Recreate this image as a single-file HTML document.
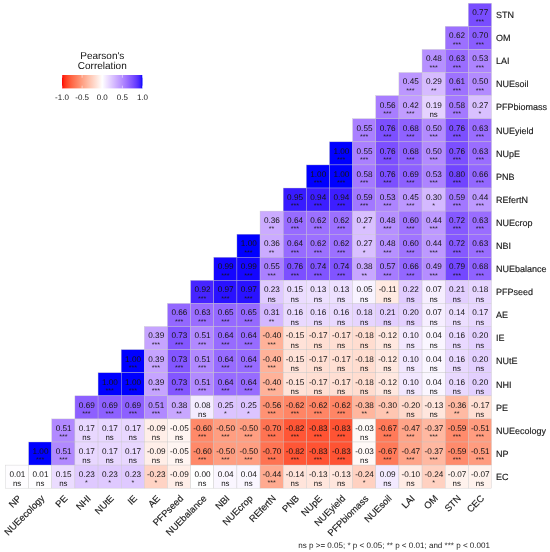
<!DOCTYPE html>
<html lang="en"><head><meta charset="utf-8"><title>Pearson correlation heatmap</title>
<style>
html,body{margin:0;padding:0;background:#fff;}
body{width:550px;height:552px;overflow:hidden;}
svg{display:block;font-family:"Liberation Sans",Arial,sans-serif;text-rendering:geometricPrecision;}
.v{font-size:8.2px;fill:#141414;text-anchor:middle;}
.s{font-size:7.1px;fill:#141414;text-anchor:middle;}
.n{font-size:7.9px;fill:#141414;text-anchor:middle;}
.yl{font-size:9px;fill:#1a1a1a;stroke:#1a1a1a;stroke-width:0.15;}
.xl{font-size:9.4px;fill:#1a1a1a;stroke:#1a1a1a;stroke-width:0.15;text-anchor:end;}
.lt{font-size:10px;fill:#111;text-anchor:middle;}
.ll{font-size:8px;fill:#1a1a1a;text-anchor:middle;}
.cap{font-size:8.06px;fill:#222;text-anchor:end;}
.c{stroke:#C6C6C6;stroke-width:0.4;stroke-opacity:0.85;}
</style></head><body>
<svg width="550" height="552" viewBox="0 0 550 552">
<rect x="0" y="0" width="550" height="552" fill="#FFFFFF"/>
<g><rect class="c" x="468.36" y="3.30" width="23.14" height="23.09" fill="#794DFF"/><rect class="c" x="445.22" y="26.39" width="23.14" height="23.09" fill="#9C70FF"/><rect class="c" x="468.36" y="26.39" width="23.14" height="23.09" fill="#8A5DFF"/><rect class="c" x="422.07" y="49.48" width="23.14" height="23.09" fill="#B690FF"/><rect class="c" x="445.22" y="49.48" width="23.14" height="23.09" fill="#9A6DFF"/><rect class="c" x="468.36" y="49.48" width="23.14" height="23.09" fill="#AD84FF"/><rect class="c" x="398.93" y="72.57" width="23.14" height="23.09" fill="#BC97FF"/><rect class="c" x="422.07" y="72.57" width="23.14" height="23.09" fill="#D6BBFF"/><rect class="c" x="445.22" y="72.57" width="23.14" height="23.09" fill="#9E72FF"/><rect class="c" x="468.36" y="72.57" width="23.14" height="23.09" fill="#B38BFF"/><rect class="c" x="375.79" y="95.66" width="23.14" height="23.09" fill="#A87DFF"/><rect class="c" x="398.93" y="95.66" width="23.14" height="23.09" fill="#C19DFF"/><rect class="c" x="422.07" y="95.66" width="23.14" height="23.09" fill="#E5D2FF"/><rect class="c" x="445.22" y="95.66" width="23.14" height="23.09" fill="#A479FF"/><rect class="c" x="468.36" y="95.66" width="23.14" height="23.09" fill="#D9C0FF"/><rect class="c" x="352.64" y="118.75" width="23.14" height="23.09" fill="#AA80FF"/><rect class="c" x="375.79" y="118.75" width="23.14" height="23.09" fill="#7C4FFF"/><rect class="c" x="398.93" y="118.75" width="23.14" height="23.09" fill="#8F62FF"/><rect class="c" x="422.07" y="118.75" width="23.14" height="23.09" fill="#B38BFF"/><rect class="c" x="445.22" y="118.75" width="23.14" height="23.09" fill="#7C4FFF"/><rect class="c" x="468.36" y="118.75" width="23.14" height="23.09" fill="#9A6DFF"/><rect class="c" x="329.50" y="141.84" width="23.14" height="23.09" fill="#0000FF"/><rect class="c" x="352.64" y="141.84" width="23.14" height="23.09" fill="#AA80FF"/><rect class="c" x="375.79" y="141.84" width="23.14" height="23.09" fill="#7C4FFF"/><rect class="c" x="398.93" y="141.84" width="23.14" height="23.09" fill="#8F62FF"/><rect class="c" x="422.07" y="141.84" width="23.14" height="23.09" fill="#B38BFF"/><rect class="c" x="445.22" y="141.84" width="23.14" height="23.09" fill="#7C4FFF"/><rect class="c" x="468.36" y="141.84" width="23.14" height="23.09" fill="#9A6DFF"/><rect class="c" x="306.36" y="164.93" width="23.14" height="23.09" fill="#0000FF"/><rect class="c" x="329.50" y="164.93" width="23.14" height="23.09" fill="#0000FF"/><rect class="c" x="352.64" y="164.93" width="23.14" height="23.09" fill="#A479FF"/><rect class="c" x="375.79" y="164.93" width="23.14" height="23.09" fill="#7C4FFF"/><rect class="c" x="398.93" y="164.93" width="23.14" height="23.09" fill="#8D60FF"/><rect class="c" x="422.07" y="164.93" width="23.14" height="23.09" fill="#AD84FF"/><rect class="c" x="445.22" y="164.93" width="23.14" height="23.09" fill="#7145FF"/><rect class="c" x="468.36" y="164.93" width="23.14" height="23.09" fill="#9367FF"/><rect class="c" x="283.22" y="188.02" width="23.14" height="23.09" fill="#381BFF"/><rect class="c" x="306.36" y="188.02" width="23.14" height="23.09" fill="#3D1EFF"/><rect class="c" x="329.50" y="188.02" width="23.14" height="23.09" fill="#3D1EFF"/><rect class="c" x="352.64" y="188.02" width="23.14" height="23.09" fill="#A277FF"/><rect class="c" x="375.79" y="188.02" width="23.14" height="23.09" fill="#AD84FF"/><rect class="c" x="398.93" y="188.02" width="23.14" height="23.09" fill="#BC97FF"/><rect class="c" x="422.07" y="188.02" width="23.14" height="23.09" fill="#D4B9FF"/><rect class="c" x="445.22" y="188.02" width="23.14" height="23.09" fill="#A277FF"/><rect class="c" x="468.36" y="188.02" width="23.14" height="23.09" fill="#BD99FF"/><rect class="c" x="260.07" y="211.11" width="23.14" height="23.09" fill="#CBABFF"/><rect class="c" x="283.22" y="211.11" width="23.14" height="23.09" fill="#976BFF"/><rect class="c" x="306.36" y="211.11" width="23.14" height="23.09" fill="#9C70FF"/><rect class="c" x="329.50" y="211.11" width="23.14" height="23.09" fill="#9C70FF"/><rect class="c" x="352.64" y="211.11" width="23.14" height="23.09" fill="#D9C0FF"/><rect class="c" x="375.79" y="211.11" width="23.14" height="23.09" fill="#B690FF"/><rect class="c" x="398.93" y="211.11" width="23.14" height="23.09" fill="#A074FF"/><rect class="c" x="422.07" y="211.11" width="23.14" height="23.09" fill="#BD99FF"/><rect class="c" x="445.22" y="211.11" width="23.14" height="23.09" fill="#8659FF"/><rect class="c" x="468.36" y="211.11" width="23.14" height="23.09" fill="#9A6DFF"/><rect class="c" x="236.93" y="234.20" width="23.14" height="23.09" fill="#0000FF"/><rect class="c" x="260.07" y="234.20" width="23.14" height="23.09" fill="#CBABFF"/><rect class="c" x="283.22" y="234.20" width="23.14" height="23.09" fill="#976BFF"/><rect class="c" x="306.36" y="234.20" width="23.14" height="23.09" fill="#9C70FF"/><rect class="c" x="329.50" y="234.20" width="23.14" height="23.09" fill="#9C70FF"/><rect class="c" x="352.64" y="234.20" width="23.14" height="23.09" fill="#D9C0FF"/><rect class="c" x="375.79" y="234.20" width="23.14" height="23.09" fill="#B690FF"/><rect class="c" x="398.93" y="234.20" width="23.14" height="23.09" fill="#A074FF"/><rect class="c" x="422.07" y="234.20" width="23.14" height="23.09" fill="#BD99FF"/><rect class="c" x="445.22" y="234.20" width="23.14" height="23.09" fill="#8659FF"/><rect class="c" x="468.36" y="234.20" width="23.14" height="23.09" fill="#9A6DFF"/><rect class="c" x="213.79" y="257.29" width="23.14" height="23.09" fill="#1506FF"/><rect class="c" x="236.93" y="257.29" width="23.14" height="23.09" fill="#1506FF"/><rect class="c" x="260.07" y="257.29" width="23.14" height="23.09" fill="#AA80FF"/><rect class="c" x="283.22" y="257.29" width="23.14" height="23.09" fill="#7C4FFF"/><rect class="c" x="306.36" y="257.29" width="23.14" height="23.09" fill="#8154FF"/><rect class="c" x="329.50" y="257.29" width="23.14" height="23.09" fill="#8154FF"/><rect class="c" x="352.64" y="257.29" width="23.14" height="23.09" fill="#C8A7FF"/><rect class="c" x="375.79" y="257.29" width="23.14" height="23.09" fill="#A67BFF"/><rect class="c" x="398.93" y="257.29" width="23.14" height="23.09" fill="#9367FF"/><rect class="c" x="422.07" y="257.29" width="23.14" height="23.09" fill="#B58DFF"/><rect class="c" x="445.22" y="257.29" width="23.14" height="23.09" fill="#7448FF"/><rect class="c" x="468.36" y="257.29" width="23.14" height="23.09" fill="#8F62FF"/><rect class="c" x="190.64" y="280.38" width="23.14" height="23.09" fill="#4725FF"/><rect class="c" x="213.79" y="280.38" width="23.14" height="23.09" fill="#2A12FF"/><rect class="c" x="236.93" y="280.38" width="23.14" height="23.09" fill="#2A12FF"/><rect class="c" x="260.07" y="280.38" width="23.14" height="23.09" fill="#DFC9FF"/><rect class="c" x="283.22" y="280.38" width="23.14" height="23.09" fill="#EBDCFF"/><rect class="c" x="306.36" y="280.38" width="23.14" height="23.09" fill="#EDE0FF"/><rect class="c" x="329.50" y="280.38" width="23.14" height="23.09" fill="#EDE0FF"/><rect class="c" x="352.64" y="280.38" width="23.14" height="23.09" fill="#F8F3FF"/><rect class="c" x="375.79" y="280.38" width="23.14" height="23.09" fill="#FFEAE2"/><rect class="c" x="398.93" y="280.38" width="23.14" height="23.09" fill="#E0CBFF"/><rect class="c" x="422.07" y="280.38" width="23.14" height="23.09" fill="#F6EEFF"/><rect class="c" x="445.22" y="280.38" width="23.14" height="23.09" fill="#E2CEFF"/><rect class="c" x="468.36" y="280.38" width="23.14" height="23.09" fill="#E6D5FF"/><rect class="c" x="167.50" y="303.47" width="23.14" height="23.09" fill="#9367FF"/><rect class="c" x="190.64" y="303.47" width="23.14" height="23.09" fill="#9A6DFF"/><rect class="c" x="213.79" y="303.47" width="23.14" height="23.09" fill="#9569FF"/><rect class="c" x="236.93" y="303.47" width="23.14" height="23.09" fill="#9569FF"/><rect class="c" x="260.07" y="303.47" width="23.14" height="23.09" fill="#D3B7FF"/><rect class="c" x="283.22" y="303.47" width="23.14" height="23.09" fill="#E9D9FF"/><rect class="c" x="306.36" y="303.47" width="23.14" height="23.09" fill="#E9D9FF"/><rect class="c" x="329.50" y="303.47" width="23.14" height="23.09" fill="#E9D9FF"/><rect class="c" x="352.64" y="303.47" width="23.14" height="23.09" fill="#E6D5FF"/><rect class="c" x="375.79" y="303.47" width="23.14" height="23.09" fill="#E2CEFF"/><rect class="c" x="398.93" y="303.47" width="23.14" height="23.09" fill="#E3D0FF"/><rect class="c" x="422.07" y="303.47" width="23.14" height="23.09" fill="#F6EEFF"/><rect class="c" x="445.22" y="303.47" width="23.14" height="23.09" fill="#ECDEFF"/><rect class="c" x="468.36" y="303.47" width="23.14" height="23.09" fill="#E8D7FF"/><rect class="c" x="144.36" y="326.56" width="23.14" height="23.09" fill="#C6A4FF"/><rect class="c" x="167.50" y="326.56" width="23.14" height="23.09" fill="#8356FF"/><rect class="c" x="190.64" y="326.56" width="23.14" height="23.09" fill="#B189FF"/><rect class="c" x="213.79" y="326.56" width="23.14" height="23.09" fill="#976BFF"/><rect class="c" x="236.93" y="326.56" width="23.14" height="23.09" fill="#976BFF"/><rect class="c" x="260.07" y="326.56" width="23.14" height="23.09" fill="#FFB299"/><rect class="c" x="283.22" y="326.56" width="23.14" height="23.09" fill="#FFE2D8"/><rect class="c" x="306.36" y="326.56" width="23.14" height="23.09" fill="#FFDFD3"/><rect class="c" x="329.50" y="326.56" width="23.14" height="23.09" fill="#FFDFD3"/><rect class="c" x="352.64" y="326.56" width="23.14" height="23.09" fill="#FFDDD0"/><rect class="c" x="375.79" y="326.56" width="23.14" height="23.09" fill="#FFE8E0"/><rect class="c" x="398.93" y="326.56" width="23.14" height="23.09" fill="#F2E7FF"/><rect class="c" x="422.07" y="326.56" width="23.14" height="23.09" fill="#FAF6FF"/><rect class="c" x="445.22" y="326.56" width="23.14" height="23.09" fill="#E9D9FF"/><rect class="c" x="468.36" y="326.56" width="23.14" height="23.09" fill="#E3D0FF"/><rect class="c" x="121.22" y="349.65" width="23.14" height="23.09" fill="#0000FF"/><rect class="c" x="144.36" y="349.65" width="23.14" height="23.09" fill="#C6A4FF"/><rect class="c" x="167.50" y="349.65" width="23.14" height="23.09" fill="#8356FF"/><rect class="c" x="190.64" y="349.65" width="23.14" height="23.09" fill="#B189FF"/><rect class="c" x="213.79" y="349.65" width="23.14" height="23.09" fill="#976BFF"/><rect class="c" x="236.93" y="349.65" width="23.14" height="23.09" fill="#976BFF"/><rect class="c" x="260.07" y="349.65" width="23.14" height="23.09" fill="#FFB299"/><rect class="c" x="283.22" y="349.65" width="23.14" height="23.09" fill="#FFE2D8"/><rect class="c" x="306.36" y="349.65" width="23.14" height="23.09" fill="#FFDFD3"/><rect class="c" x="329.50" y="349.65" width="23.14" height="23.09" fill="#FFDFD3"/><rect class="c" x="352.64" y="349.65" width="23.14" height="23.09" fill="#FFDDD0"/><rect class="c" x="375.79" y="349.65" width="23.14" height="23.09" fill="#FFE8E0"/><rect class="c" x="398.93" y="349.65" width="23.14" height="23.09" fill="#F2E7FF"/><rect class="c" x="422.07" y="349.65" width="23.14" height="23.09" fill="#FAF6FF"/><rect class="c" x="445.22" y="349.65" width="23.14" height="23.09" fill="#E9D9FF"/><rect class="c" x="468.36" y="349.65" width="23.14" height="23.09" fill="#E3D0FF"/><rect class="c" x="98.07" y="372.74" width="23.14" height="23.09" fill="#0000FF"/><rect class="c" x="121.22" y="372.74" width="23.14" height="23.09" fill="#0000FF"/><rect class="c" x="144.36" y="372.74" width="23.14" height="23.09" fill="#C6A4FF"/><rect class="c" x="167.50" y="372.74" width="23.14" height="23.09" fill="#8356FF"/><rect class="c" x="190.64" y="372.74" width="23.14" height="23.09" fill="#B189FF"/><rect class="c" x="213.79" y="372.74" width="23.14" height="23.09" fill="#976BFF"/><rect class="c" x="236.93" y="372.74" width="23.14" height="23.09" fill="#976BFF"/><rect class="c" x="260.07" y="372.74" width="23.14" height="23.09" fill="#FFB299"/><rect class="c" x="283.22" y="372.74" width="23.14" height="23.09" fill="#FFE2D8"/><rect class="c" x="306.36" y="372.74" width="23.14" height="23.09" fill="#FFDFD3"/><rect class="c" x="329.50" y="372.74" width="23.14" height="23.09" fill="#FFDFD3"/><rect class="c" x="352.64" y="372.74" width="23.14" height="23.09" fill="#FFDDD0"/><rect class="c" x="375.79" y="372.74" width="23.14" height="23.09" fill="#FFE8E0"/><rect class="c" x="398.93" y="372.74" width="23.14" height="23.09" fill="#F2E7FF"/><rect class="c" x="422.07" y="372.74" width="23.14" height="23.09" fill="#FAF6FF"/><rect class="c" x="445.22" y="372.74" width="23.14" height="23.09" fill="#E9D9FF"/><rect class="c" x="468.36" y="372.74" width="23.14" height="23.09" fill="#E3D0FF"/><rect class="c" x="74.93" y="395.83" width="23.14" height="23.09" fill="#8D60FF"/><rect class="c" x="98.07" y="395.83" width="23.14" height="23.09" fill="#8D60FF"/><rect class="c" x="121.22" y="395.83" width="23.14" height="23.09" fill="#8D60FF"/><rect class="c" x="144.36" y="395.83" width="23.14" height="23.09" fill="#B189FF"/><rect class="c" x="167.50" y="395.83" width="23.14" height="23.09" fill="#C8A7FF"/><rect class="c" x="190.64" y="395.83" width="23.14" height="23.09" fill="#F4ECFF"/><rect class="c" x="213.79" y="395.83" width="23.14" height="23.09" fill="#DCC4FF"/><rect class="c" x="236.93" y="395.83" width="23.14" height="23.09" fill="#DCC4FF"/><rect class="c" x="260.07" y="395.83" width="23.14" height="23.09" fill="#FF9273"/><rect class="c" x="283.22" y="395.83" width="23.14" height="23.09" fill="#FF8565"/><rect class="c" x="306.36" y="395.83" width="23.14" height="23.09" fill="#FF8565"/><rect class="c" x="329.50" y="395.83" width="23.14" height="23.09" fill="#FF8565"/><rect class="c" x="352.64" y="395.83" width="23.14" height="23.09" fill="#FFB69E"/><rect class="c" x="375.79" y="395.83" width="23.14" height="23.09" fill="#FFC6B2"/><rect class="c" x="398.93" y="395.83" width="23.14" height="23.09" fill="#FFD9CB"/><rect class="c" x="422.07" y="395.83" width="23.14" height="23.09" fill="#FFE6DD"/><rect class="c" x="445.22" y="395.83" width="23.14" height="23.09" fill="#FFBAA3"/><rect class="c" x="468.36" y="395.83" width="23.14" height="23.09" fill="#FFDFD3"/><rect class="c" x="51.79" y="418.92" width="23.14" height="23.09" fill="#B189FF"/><rect class="c" x="74.93" y="418.92" width="23.14" height="23.09" fill="#E8D7FF"/><rect class="c" x="98.07" y="418.92" width="23.14" height="23.09" fill="#E8D7FF"/><rect class="c" x="121.22" y="418.92" width="23.14" height="23.09" fill="#E8D7FF"/><rect class="c" x="144.36" y="418.92" width="23.14" height="23.09" fill="#FFEEE8"/><rect class="c" x="167.50" y="418.92" width="23.14" height="23.09" fill="#FFF5F2"/><rect class="c" x="190.64" y="418.92" width="23.14" height="23.09" fill="#FF8969"/><rect class="c" x="213.79" y="418.92" width="23.14" height="23.09" fill="#FF9E81"/><rect class="c" x="236.93" y="418.92" width="23.14" height="23.09" fill="#FF9E81"/><rect class="c" x="260.07" y="418.92" width="23.14" height="23.09" fill="#FF7352"/><rect class="c" x="283.22" y="418.92" width="23.14" height="23.09" fill="#FF5636"/><rect class="c" x="306.36" y="418.92" width="23.14" height="23.09" fill="#FF5333"/><rect class="c" x="329.50" y="418.92" width="23.14" height="23.09" fill="#FF5333"/><rect class="c" x="352.64" y="418.92" width="23.14" height="23.09" fill="#FFF9F7"/><rect class="c" x="375.79" y="418.92" width="23.14" height="23.09" fill="#FF7A59"/><rect class="c" x="398.93" y="418.92" width="23.14" height="23.09" fill="#FFA488"/><rect class="c" x="422.07" y="418.92" width="23.14" height="23.09" fill="#FFB8A1"/><rect class="c" x="445.22" y="418.92" width="23.14" height="23.09" fill="#FF8B6C"/><rect class="c" x="468.36" y="418.92" width="23.14" height="23.09" fill="#FF9C7F"/><rect class="c" x="28.64" y="442.01" width="23.14" height="23.09" fill="#0000FF"/><rect class="c" x="51.79" y="442.01" width="23.14" height="23.09" fill="#B189FF"/><rect class="c" x="74.93" y="442.01" width="23.14" height="23.09" fill="#E8D7FF"/><rect class="c" x="98.07" y="442.01" width="23.14" height="23.09" fill="#E8D7FF"/><rect class="c" x="121.22" y="442.01" width="23.14" height="23.09" fill="#E8D7FF"/><rect class="c" x="144.36" y="442.01" width="23.14" height="23.09" fill="#FFEEE8"/><rect class="c" x="167.50" y="442.01" width="23.14" height="23.09" fill="#FFF5F2"/><rect class="c" x="190.64" y="442.01" width="23.14" height="23.09" fill="#FF8969"/><rect class="c" x="213.79" y="442.01" width="23.14" height="23.09" fill="#FF9E81"/><rect class="c" x="236.93" y="442.01" width="23.14" height="23.09" fill="#FF9E81"/><rect class="c" x="260.07" y="442.01" width="23.14" height="23.09" fill="#FF7352"/><rect class="c" x="283.22" y="442.01" width="23.14" height="23.09" fill="#FF5636"/><rect class="c" x="306.36" y="442.01" width="23.14" height="23.09" fill="#FF5333"/><rect class="c" x="329.50" y="442.01" width="23.14" height="23.09" fill="#FF5333"/><rect class="c" x="352.64" y="442.01" width="23.14" height="23.09" fill="#FFF9F7"/><rect class="c" x="375.79" y="442.01" width="23.14" height="23.09" fill="#FF7A59"/><rect class="c" x="398.93" y="442.01" width="23.14" height="23.09" fill="#FFA488"/><rect class="c" x="422.07" y="442.01" width="23.14" height="23.09" fill="#FFB8A1"/><rect class="c" x="445.22" y="442.01" width="23.14" height="23.09" fill="#FF8B6C"/><rect class="c" x="468.36" y="442.01" width="23.14" height="23.09" fill="#FF9C7F"/><rect class="c" x="5.50" y="465.10" width="23.14" height="23.09" fill="#FEFDFF"/><rect class="c" x="28.64" y="465.10" width="23.14" height="23.09" fill="#FEFDFF"/><rect class="c" x="51.79" y="465.10" width="23.14" height="23.09" fill="#EBDCFF"/><rect class="c" x="74.93" y="465.10" width="23.14" height="23.09" fill="#DFC9FF"/><rect class="c" x="98.07" y="465.10" width="23.14" height="23.09" fill="#DFC9FF"/><rect class="c" x="121.22" y="465.10" width="23.14" height="23.09" fill="#DFC9FF"/><rect class="c" x="144.36" y="465.10" width="23.14" height="23.09" fill="#FFD3C4"/><rect class="c" x="167.50" y="465.10" width="23.14" height="23.09" fill="#FFEEE8"/><rect class="c" x="190.64" y="465.10" width="23.14" height="23.09" fill="#FFFFFF"/><rect class="c" x="213.79" y="465.10" width="23.14" height="23.09" fill="#FAF6FF"/><rect class="c" x="236.93" y="465.10" width="23.14" height="23.09" fill="#FAF6FF"/><rect class="c" x="260.07" y="465.10" width="23.14" height="23.09" fill="#FFAA90"/><rect class="c" x="283.22" y="465.10" width="23.14" height="23.09" fill="#FFE4DB"/><rect class="c" x="306.36" y="465.10" width="23.14" height="23.09" fill="#FFE6DD"/><rect class="c" x="329.50" y="465.10" width="23.14" height="23.09" fill="#FFE6DD"/><rect class="c" x="352.64" y="465.10" width="23.14" height="23.09" fill="#FFD1C1"/><rect class="c" x="375.79" y="465.10" width="23.14" height="23.09" fill="#F3EAFF"/><rect class="c" x="398.93" y="465.10" width="23.14" height="23.09" fill="#FFECE5"/><rect class="c" x="422.07" y="465.10" width="23.14" height="23.09" fill="#FFD1C1"/><rect class="c" x="445.22" y="465.10" width="23.14" height="23.09" fill="#FFF2ED"/><rect class="c" x="468.36" y="465.10" width="23.14" height="23.09" fill="#FFF2ED"/></g>
<g><text class="v" x="480.23" y="15.14">0.77</text><text class="s" x="479.93" y="23.64">***</text><text class="v" x="457.09" y="38.23">0.62</text><text class="s" x="456.79" y="46.73">***</text><text class="v" x="480.23" y="38.23">0.70</text><text class="s" x="479.93" y="46.73">***</text><text class="v" x="433.95" y="61.32">0.48</text><text class="s" x="433.65" y="69.83">***</text><text class="v" x="457.09" y="61.32">0.63</text><text class="s" x="456.79" y="69.83">***</text><text class="v" x="480.23" y="61.32">0.53</text><text class="s" x="479.93" y="69.83">***</text><text class="v" x="410.80" y="84.41">0.45</text><text class="s" x="410.50" y="92.91">***</text><text class="v" x="433.95" y="84.41">0.29</text><text class="s" x="433.65" y="92.91">**</text><text class="v" x="457.09" y="84.41">0.61</text><text class="s" x="456.79" y="92.91">***</text><text class="v" x="480.23" y="84.41">0.50</text><text class="s" x="479.93" y="92.91">***</text><text class="v" x="387.66" y="107.50">0.56</text><text class="s" x="387.36" y="116.00">***</text><text class="v" x="410.80" y="107.50">0.42</text><text class="s" x="410.50" y="116.00">***</text><text class="v" x="433.95" y="107.50">0.19</text><text class="n" x="433.65" y="117.00">ns</text><text class="v" x="457.09" y="107.50">0.58</text><text class="s" x="456.79" y="116.00">***</text><text class="v" x="480.23" y="107.50">0.27</text><text class="s" x="479.93" y="116.00">*</text><text class="v" x="364.52" y="130.59">0.55</text><text class="s" x="364.22" y="139.09">***</text><text class="v" x="387.66" y="130.59">0.76</text><text class="s" x="387.36" y="139.09">***</text><text class="v" x="410.80" y="130.59">0.68</text><text class="s" x="410.50" y="139.09">***</text><text class="v" x="433.95" y="130.59">0.50</text><text class="s" x="433.65" y="139.09">***</text><text class="v" x="457.09" y="130.59">0.76</text><text class="s" x="456.79" y="139.09">***</text><text class="v" x="480.23" y="130.59">0.63</text><text class="s" x="479.93" y="139.09">***</text><text class="v" x="341.37" y="153.69">1.00</text><text class="s" x="341.07" y="162.19">***</text><text class="v" x="364.52" y="153.69">0.55</text><text class="s" x="364.22" y="162.19">***</text><text class="v" x="387.66" y="153.69">0.76</text><text class="s" x="387.36" y="162.19">***</text><text class="v" x="410.80" y="153.69">0.68</text><text class="s" x="410.50" y="162.19">***</text><text class="v" x="433.95" y="153.69">0.50</text><text class="s" x="433.65" y="162.19">***</text><text class="v" x="457.09" y="153.69">0.76</text><text class="s" x="456.79" y="162.19">***</text><text class="v" x="480.23" y="153.69">0.63</text><text class="s" x="479.93" y="162.19">***</text><text class="v" x="318.23" y="176.78">1.00</text><text class="s" x="317.93" y="185.28">***</text><text class="v" x="341.37" y="176.78">1.00</text><text class="s" x="341.07" y="185.28">***</text><text class="v" x="364.52" y="176.78">0.58</text><text class="s" x="364.22" y="185.28">***</text><text class="v" x="387.66" y="176.78">0.76</text><text class="s" x="387.36" y="185.28">***</text><text class="v" x="410.80" y="176.78">0.69</text><text class="s" x="410.50" y="185.28">***</text><text class="v" x="433.95" y="176.78">0.53</text><text class="s" x="433.65" y="185.28">***</text><text class="v" x="457.09" y="176.78">0.80</text><text class="s" x="456.79" y="185.28">***</text><text class="v" x="480.23" y="176.78">0.66</text><text class="s" x="479.93" y="185.28">***</text><text class="v" x="295.09" y="199.87">0.95</text><text class="s" x="294.79" y="208.37">***</text><text class="v" x="318.23" y="199.87">0.94</text><text class="s" x="317.93" y="208.37">***</text><text class="v" x="341.37" y="199.87">0.94</text><text class="s" x="341.07" y="208.37">***</text><text class="v" x="364.52" y="199.87">0.59</text><text class="s" x="364.22" y="208.37">***</text><text class="v" x="387.66" y="199.87">0.53</text><text class="s" x="387.36" y="208.37">***</text><text class="v" x="410.80" y="199.87">0.45</text><text class="s" x="410.50" y="208.37">***</text><text class="v" x="433.95" y="199.87">0.30</text><text class="s" x="433.65" y="208.37">*</text><text class="v" x="457.09" y="199.87">0.59</text><text class="s" x="456.79" y="208.37">***</text><text class="v" x="480.23" y="199.87">0.44</text><text class="s" x="479.93" y="208.37">***</text><text class="v" x="271.94" y="222.96">0.36</text><text class="s" x="271.64" y="231.46">**</text><text class="v" x="295.09" y="222.96">0.64</text><text class="s" x="294.79" y="231.46">***</text><text class="v" x="318.23" y="222.96">0.62</text><text class="s" x="317.93" y="231.46">***</text><text class="v" x="341.37" y="222.96">0.62</text><text class="s" x="341.07" y="231.46">***</text><text class="v" x="364.52" y="222.96">0.27</text><text class="s" x="364.22" y="231.46">*</text><text class="v" x="387.66" y="222.96">0.48</text><text class="s" x="387.36" y="231.46">***</text><text class="v" x="410.80" y="222.96">0.60</text><text class="s" x="410.50" y="231.46">***</text><text class="v" x="433.95" y="222.96">0.44</text><text class="s" x="433.65" y="231.46">***</text><text class="v" x="457.09" y="222.96">0.72</text><text class="s" x="456.79" y="231.46">***</text><text class="v" x="480.23" y="222.96">0.63</text><text class="s" x="479.93" y="231.46">***</text><text class="v" x="248.80" y="246.05">1.00</text><text class="s" x="248.50" y="254.55">***</text><text class="v" x="271.94" y="246.05">0.36</text><text class="s" x="271.64" y="254.55">**</text><text class="v" x="295.09" y="246.05">0.64</text><text class="s" x="294.79" y="254.55">***</text><text class="v" x="318.23" y="246.05">0.62</text><text class="s" x="317.93" y="254.55">***</text><text class="v" x="341.37" y="246.05">0.62</text><text class="s" x="341.07" y="254.55">***</text><text class="v" x="364.52" y="246.05">0.27</text><text class="s" x="364.22" y="254.55">*</text><text class="v" x="387.66" y="246.05">0.48</text><text class="s" x="387.36" y="254.55">***</text><text class="v" x="410.80" y="246.05">0.60</text><text class="s" x="410.50" y="254.55">***</text><text class="v" x="433.95" y="246.05">0.44</text><text class="s" x="433.65" y="254.55">***</text><text class="v" x="457.09" y="246.05">0.72</text><text class="s" x="456.79" y="254.55">***</text><text class="v" x="480.23" y="246.05">0.63</text><text class="s" x="479.93" y="254.55">***</text><text class="v" x="225.66" y="269.14">0.99</text><text class="s" x="225.36" y="277.64">***</text><text class="v" x="248.80" y="269.14">0.99</text><text class="s" x="248.50" y="277.64">***</text><text class="v" x="271.94" y="269.14">0.55</text><text class="s" x="271.64" y="277.64">***</text><text class="v" x="295.09" y="269.14">0.76</text><text class="s" x="294.79" y="277.64">***</text><text class="v" x="318.23" y="269.14">0.74</text><text class="s" x="317.93" y="277.64">***</text><text class="v" x="341.37" y="269.14">0.74</text><text class="s" x="341.07" y="277.64">***</text><text class="v" x="364.52" y="269.14">0.38</text><text class="s" x="364.22" y="277.64">**</text><text class="v" x="387.66" y="269.14">0.57</text><text class="s" x="387.36" y="277.64">***</text><text class="v" x="410.80" y="269.14">0.66</text><text class="s" x="410.50" y="277.64">***</text><text class="v" x="433.95" y="269.14">0.49</text><text class="s" x="433.65" y="277.64">***</text><text class="v" x="457.09" y="269.14">0.79</text><text class="s" x="456.79" y="277.64">***</text><text class="v" x="480.23" y="269.14">0.68</text><text class="s" x="479.93" y="277.64">***</text><text class="v" x="202.52" y="292.23">0.92</text><text class="s" x="202.22" y="300.73">***</text><text class="v" x="225.66" y="292.23">0.97</text><text class="s" x="225.36" y="300.73">***</text><text class="v" x="248.80" y="292.23">0.97</text><text class="s" x="248.50" y="300.73">***</text><text class="v" x="271.94" y="292.23">0.23</text><text class="n" x="271.64" y="301.73">ns</text><text class="v" x="295.09" y="292.23">0.15</text><text class="n" x="294.79" y="301.73">ns</text><text class="v" x="318.23" y="292.23">0.13</text><text class="n" x="317.93" y="301.73">ns</text><text class="v" x="341.37" y="292.23">0.13</text><text class="n" x="341.07" y="301.73">ns</text><text class="v" x="364.52" y="292.23">0.05</text><text class="n" x="364.22" y="301.73">ns</text><text class="v" x="387.66" y="292.23">-0.11</text><text class="n" x="387.36" y="301.73">ns</text><text class="v" x="410.80" y="292.23">0.22</text><text class="n" x="410.50" y="301.73">ns</text><text class="v" x="433.95" y="292.23">0.07</text><text class="n" x="433.65" y="301.73">ns</text><text class="v" x="457.09" y="292.23">0.21</text><text class="n" x="456.79" y="301.73">ns</text><text class="v" x="480.23" y="292.23">0.18</text><text class="n" x="479.93" y="301.73">ns</text><text class="v" x="179.37" y="315.32">0.66</text><text class="s" x="179.07" y="323.82">***</text><text class="v" x="202.52" y="315.32">0.63</text><text class="s" x="202.22" y="323.82">***</text><text class="v" x="225.66" y="315.32">0.65</text><text class="s" x="225.36" y="323.82">***</text><text class="v" x="248.80" y="315.32">0.65</text><text class="s" x="248.50" y="323.82">***</text><text class="v" x="271.94" y="315.32">0.31</text><text class="s" x="271.64" y="323.82">**</text><text class="v" x="295.09" y="315.32">0.16</text><text class="n" x="294.79" y="324.82">ns</text><text class="v" x="318.23" y="315.32">0.16</text><text class="n" x="317.93" y="324.82">ns</text><text class="v" x="341.37" y="315.32">0.16</text><text class="n" x="341.07" y="324.82">ns</text><text class="v" x="364.52" y="315.32">0.18</text><text class="n" x="364.22" y="324.82">ns</text><text class="v" x="387.66" y="315.32">0.21</text><text class="n" x="387.36" y="324.82">ns</text><text class="v" x="410.80" y="315.32">0.20</text><text class="n" x="410.50" y="324.82">ns</text><text class="v" x="433.95" y="315.32">0.07</text><text class="n" x="433.65" y="324.82">ns</text><text class="v" x="457.09" y="315.32">0.14</text><text class="n" x="456.79" y="324.82">ns</text><text class="v" x="480.23" y="315.32">0.17</text><text class="n" x="479.93" y="324.82">ns</text><text class="v" x="156.23" y="338.41">0.39</text><text class="s" x="155.93" y="346.91">***</text><text class="v" x="179.37" y="338.41">0.73</text><text class="s" x="179.07" y="346.91">***</text><text class="v" x="202.52" y="338.41">0.51</text><text class="s" x="202.22" y="346.91">***</text><text class="v" x="225.66" y="338.41">0.64</text><text class="s" x="225.36" y="346.91">***</text><text class="v" x="248.80" y="338.41">0.64</text><text class="s" x="248.50" y="346.91">***</text><text class="v" x="271.94" y="338.41">-0.40</text><text class="s" x="271.64" y="346.91">***</text><text class="v" x="295.09" y="338.41">-0.15</text><text class="n" x="294.79" y="347.91">ns</text><text class="v" x="318.23" y="338.41">-0.17</text><text class="n" x="317.93" y="347.91">ns</text><text class="v" x="341.37" y="338.41">-0.17</text><text class="n" x="341.07" y="347.91">ns</text><text class="v" x="364.52" y="338.41">-0.18</text><text class="n" x="364.22" y="347.91">ns</text><text class="v" x="387.66" y="338.41">-0.12</text><text class="n" x="387.36" y="347.91">ns</text><text class="v" x="410.80" y="338.41">0.10</text><text class="n" x="410.50" y="347.91">ns</text><text class="v" x="433.95" y="338.41">0.04</text><text class="n" x="433.65" y="347.91">ns</text><text class="v" x="457.09" y="338.41">0.16</text><text class="n" x="456.79" y="347.91">ns</text><text class="v" x="480.23" y="338.41">0.20</text><text class="n" x="479.93" y="347.91">ns</text><text class="v" x="133.09" y="361.50">1.00</text><text class="s" x="132.79" y="370.00">***</text><text class="v" x="156.23" y="361.50">0.39</text><text class="s" x="155.93" y="370.00">***</text><text class="v" x="179.37" y="361.50">0.73</text><text class="s" x="179.07" y="370.00">***</text><text class="v" x="202.52" y="361.50">0.51</text><text class="s" x="202.22" y="370.00">***</text><text class="v" x="225.66" y="361.50">0.64</text><text class="s" x="225.36" y="370.00">***</text><text class="v" x="248.80" y="361.50">0.64</text><text class="s" x="248.50" y="370.00">***</text><text class="v" x="271.94" y="361.50">-0.40</text><text class="s" x="271.64" y="370.00">***</text><text class="v" x="295.09" y="361.50">-0.15</text><text class="n" x="294.79" y="371.00">ns</text><text class="v" x="318.23" y="361.50">-0.17</text><text class="n" x="317.93" y="371.00">ns</text><text class="v" x="341.37" y="361.50">-0.17</text><text class="n" x="341.07" y="371.00">ns</text><text class="v" x="364.52" y="361.50">-0.18</text><text class="n" x="364.22" y="371.00">ns</text><text class="v" x="387.66" y="361.50">-0.12</text><text class="n" x="387.36" y="371.00">ns</text><text class="v" x="410.80" y="361.50">0.10</text><text class="n" x="410.50" y="371.00">ns</text><text class="v" x="433.95" y="361.50">0.04</text><text class="n" x="433.65" y="371.00">ns</text><text class="v" x="457.09" y="361.50">0.16</text><text class="n" x="456.79" y="371.00">ns</text><text class="v" x="480.23" y="361.50">0.20</text><text class="n" x="479.93" y="371.00">ns</text><text class="v" x="109.94" y="384.59">1.00</text><text class="s" x="109.64" y="393.09">***</text><text class="v" x="133.09" y="384.59">1.00</text><text class="s" x="132.79" y="393.09">***</text><text class="v" x="156.23" y="384.59">0.39</text><text class="s" x="155.93" y="393.09">***</text><text class="v" x="179.37" y="384.59">0.73</text><text class="s" x="179.07" y="393.09">***</text><text class="v" x="202.52" y="384.59">0.51</text><text class="s" x="202.22" y="393.09">***</text><text class="v" x="225.66" y="384.59">0.64</text><text class="s" x="225.36" y="393.09">***</text><text class="v" x="248.80" y="384.59">0.64</text><text class="s" x="248.50" y="393.09">***</text><text class="v" x="271.94" y="384.59">-0.40</text><text class="s" x="271.64" y="393.09">***</text><text class="v" x="295.09" y="384.59">-0.15</text><text class="n" x="294.79" y="394.09">ns</text><text class="v" x="318.23" y="384.59">-0.17</text><text class="n" x="317.93" y="394.09">ns</text><text class="v" x="341.37" y="384.59">-0.17</text><text class="n" x="341.07" y="394.09">ns</text><text class="v" x="364.52" y="384.59">-0.18</text><text class="n" x="364.22" y="394.09">ns</text><text class="v" x="387.66" y="384.59">-0.12</text><text class="n" x="387.36" y="394.09">ns</text><text class="v" x="410.80" y="384.59">0.10</text><text class="n" x="410.50" y="394.09">ns</text><text class="v" x="433.95" y="384.59">0.04</text><text class="n" x="433.65" y="394.09">ns</text><text class="v" x="457.09" y="384.59">0.16</text><text class="n" x="456.79" y="394.09">ns</text><text class="v" x="480.23" y="384.59">0.20</text><text class="n" x="479.93" y="394.09">ns</text><text class="v" x="86.80" y="407.68">0.69</text><text class="s" x="86.50" y="416.18">***</text><text class="v" x="109.94" y="407.68">0.69</text><text class="s" x="109.64" y="416.18">***</text><text class="v" x="133.09" y="407.68">0.69</text><text class="s" x="132.79" y="416.18">***</text><text class="v" x="156.23" y="407.68">0.51</text><text class="s" x="155.93" y="416.18">***</text><text class="v" x="179.37" y="407.68">0.38</text><text class="s" x="179.07" y="416.18">**</text><text class="v" x="202.52" y="407.68">0.08</text><text class="n" x="202.22" y="417.18">ns</text><text class="v" x="225.66" y="407.68">0.25</text><text class="s" x="225.36" y="416.18">*</text><text class="v" x="248.80" y="407.68">0.25</text><text class="s" x="248.50" y="416.18">*</text><text class="v" x="271.94" y="407.68">-0.56</text><text class="s" x="271.64" y="416.18">***</text><text class="v" x="295.09" y="407.68">-0.62</text><text class="s" x="294.79" y="416.18">***</text><text class="v" x="318.23" y="407.68">-0.62</text><text class="s" x="317.93" y="416.18">***</text><text class="v" x="341.37" y="407.68">-0.62</text><text class="s" x="341.07" y="416.18">***</text><text class="v" x="364.52" y="407.68">-0.38</text><text class="s" x="364.22" y="416.18">**</text><text class="v" x="387.66" y="407.68">-0.30</text><text class="s" x="387.36" y="416.18">*</text><text class="v" x="410.80" y="407.68">-0.20</text><text class="n" x="410.50" y="417.18">ns</text><text class="v" x="433.95" y="407.68">-0.13</text><text class="n" x="433.65" y="417.18">ns</text><text class="v" x="457.09" y="407.68">-0.36</text><text class="s" x="456.79" y="416.18">**</text><text class="v" x="480.23" y="407.68">-0.17</text><text class="n" x="479.93" y="417.18">ns</text><text class="v" x="63.66" y="430.77">0.51</text><text class="s" x="63.36" y="439.27">***</text><text class="v" x="86.80" y="430.77">0.17</text><text class="n" x="86.50" y="440.27">ns</text><text class="v" x="109.94" y="430.77">0.17</text><text class="n" x="109.64" y="440.27">ns</text><text class="v" x="133.09" y="430.77">0.17</text><text class="n" x="132.79" y="440.27">ns</text><text class="v" x="156.23" y="430.77">-0.09</text><text class="n" x="155.93" y="440.27">ns</text><text class="v" x="179.37" y="430.77">-0.05</text><text class="n" x="179.07" y="440.27">ns</text><text class="v" x="202.52" y="430.77">-0.60</text><text class="s" x="202.22" y="439.27">***</text><text class="v" x="225.66" y="430.77">-0.50</text><text class="s" x="225.36" y="439.27">***</text><text class="v" x="248.80" y="430.77">-0.50</text><text class="s" x="248.50" y="439.27">***</text><text class="v" x="271.94" y="430.77">-0.70</text><text class="s" x="271.64" y="439.27">***</text><text class="v" x="295.09" y="430.77">-0.82</text><text class="s" x="294.79" y="439.27">***</text><text class="v" x="318.23" y="430.77">-0.83</text><text class="s" x="317.93" y="439.27">***</text><text class="v" x="341.37" y="430.77">-0.83</text><text class="s" x="341.07" y="439.27">***</text><text class="v" x="364.52" y="430.77">-0.03</text><text class="n" x="364.22" y="440.27">ns</text><text class="v" x="387.66" y="430.77">-0.67</text><text class="s" x="387.36" y="439.27">***</text><text class="v" x="410.80" y="430.77">-0.47</text><text class="s" x="410.50" y="439.27">***</text><text class="v" x="433.95" y="430.77">-0.37</text><text class="s" x="433.65" y="439.27">***</text><text class="v" x="457.09" y="430.77">-0.59</text><text class="s" x="456.79" y="439.27">***</text><text class="v" x="480.23" y="430.77">-0.51</text><text class="s" x="479.93" y="439.27">***</text><text class="v" x="40.51" y="453.86">1.00</text><text class="s" x="40.21" y="462.36">***</text><text class="v" x="63.66" y="453.86">0.51</text><text class="s" x="63.36" y="462.36">***</text><text class="v" x="86.80" y="453.86">0.17</text><text class="n" x="86.50" y="463.36">ns</text><text class="v" x="109.94" y="453.86">0.17</text><text class="n" x="109.64" y="463.36">ns</text><text class="v" x="133.09" y="453.86">0.17</text><text class="n" x="132.79" y="463.36">ns</text><text class="v" x="156.23" y="453.86">-0.09</text><text class="n" x="155.93" y="463.36">ns</text><text class="v" x="179.37" y="453.86">-0.05</text><text class="n" x="179.07" y="463.36">ns</text><text class="v" x="202.52" y="453.86">-0.60</text><text class="s" x="202.22" y="462.36">***</text><text class="v" x="225.66" y="453.86">-0.50</text><text class="s" x="225.36" y="462.36">***</text><text class="v" x="248.80" y="453.86">-0.50</text><text class="s" x="248.50" y="462.36">***</text><text class="v" x="271.94" y="453.86">-0.70</text><text class="s" x="271.64" y="462.36">***</text><text class="v" x="295.09" y="453.86">-0.82</text><text class="s" x="294.79" y="462.36">***</text><text class="v" x="318.23" y="453.86">-0.83</text><text class="s" x="317.93" y="462.36">***</text><text class="v" x="341.37" y="453.86">-0.83</text><text class="s" x="341.07" y="462.36">***</text><text class="v" x="364.52" y="453.86">-0.03</text><text class="n" x="364.22" y="463.36">ns</text><text class="v" x="387.66" y="453.86">-0.67</text><text class="s" x="387.36" y="462.36">***</text><text class="v" x="410.80" y="453.86">-0.47</text><text class="s" x="410.50" y="462.36">***</text><text class="v" x="433.95" y="453.86">-0.37</text><text class="s" x="433.65" y="462.36">***</text><text class="v" x="457.09" y="453.86">-0.59</text><text class="s" x="456.79" y="462.36">***</text><text class="v" x="480.23" y="453.86">-0.51</text><text class="s" x="479.93" y="462.36">***</text><text class="v" x="17.37" y="476.95">0.01</text><text class="n" x="17.07" y="486.45">ns</text><text class="v" x="40.51" y="476.95">0.01</text><text class="n" x="40.21" y="486.45">ns</text><text class="v" x="63.66" y="476.95">0.15</text><text class="n" x="63.36" y="486.45">ns</text><text class="v" x="86.80" y="476.95">0.23</text><text class="s" x="86.50" y="485.45">*</text><text class="v" x="109.94" y="476.95">0.23</text><text class="s" x="109.64" y="485.45">*</text><text class="v" x="133.09" y="476.95">0.23</text><text class="s" x="132.79" y="485.45">*</text><text class="v" x="156.23" y="476.95">-0.23</text><text class="s" x="155.93" y="485.45">*</text><text class="v" x="179.37" y="476.95">-0.09</text><text class="n" x="179.07" y="486.45">ns</text><text class="v" x="202.52" y="476.95">0.00</text><text class="n" x="202.22" y="486.45">ns</text><text class="v" x="225.66" y="476.95">0.04</text><text class="n" x="225.36" y="486.45">ns</text><text class="v" x="248.80" y="476.95">0.04</text><text class="n" x="248.50" y="486.45">ns</text><text class="v" x="271.94" y="476.95">-0.44</text><text class="s" x="271.64" y="485.45">***</text><text class="v" x="295.09" y="476.95">-0.14</text><text class="n" x="294.79" y="486.45">ns</text><text class="v" x="318.23" y="476.95">-0.13</text><text class="n" x="317.93" y="486.45">ns</text><text class="v" x="341.37" y="476.95">-0.13</text><text class="n" x="341.07" y="486.45">ns</text><text class="v" x="364.52" y="476.95">-0.24</text><text class="s" x="364.22" y="485.45">*</text><text class="v" x="387.66" y="476.95">0.09</text><text class="n" x="387.36" y="486.45">ns</text><text class="v" x="410.80" y="476.95">-0.10</text><text class="n" x="410.50" y="486.45">ns</text><text class="v" x="433.95" y="476.95">-0.24</text><text class="s" x="433.65" y="485.45">*</text><text class="v" x="457.09" y="476.95">-0.07</text><text class="n" x="456.79" y="486.45">ns</text><text class="v" x="480.23" y="476.95">-0.07</text><text class="n" x="479.93" y="486.45">ns</text></g>
<g><text class="yl" x="496" y="18.09">STN</text><text class="yl" x="496" y="41.19">OM</text><text class="yl" x="496" y="64.28">LAI</text><text class="yl" x="496" y="87.36">NUEsoil</text><text class="yl" x="496" y="110.45">PFPbiomass</text><text class="yl" x="496" y="133.54">NUEyield</text><text class="yl" x="496" y="156.63">NUpE</text><text class="yl" x="496" y="179.72">PNB</text><text class="yl" x="496" y="202.81">REfertN</text><text class="yl" x="496" y="225.91">NUEcrop</text><text class="yl" x="496" y="249.00">NBI</text><text class="yl" x="496" y="272.09">NUEbalance</text><text class="yl" x="496" y="295.18">PFPseed</text><text class="yl" x="496" y="318.27">AE</text><text class="yl" x="496" y="341.36">IE</text><text class="yl" x="496" y="364.45">NUtE</text><text class="yl" x="496" y="387.54">NHI</text><text class="yl" x="496" y="410.62">PE</text><text class="yl" x="496" y="433.72">NUEecology</text><text class="yl" x="496" y="456.81">NP</text><text class="yl" x="496" y="479.90">EC</text></g>
<g><text class="xl" transform="translate(16.27 493.40) rotate(-45)" x="0" y="8">NP</text><text class="xl" transform="translate(39.41 493.40) rotate(-45)" x="0" y="8">NUEecology</text><text class="xl" transform="translate(62.56 493.40) rotate(-45)" x="0" y="8">PE</text><text class="xl" transform="translate(85.70 493.40) rotate(-45)" x="0" y="8">NHI</text><text class="xl" transform="translate(108.84 493.40) rotate(-45)" x="0" y="8">NUtE</text><text class="xl" transform="translate(131.99 493.40) rotate(-45)" x="0" y="8">IE</text><text class="xl" transform="translate(155.13 493.40) rotate(-45)" x="0" y="8">AE</text><text class="xl" transform="translate(178.27 493.40) rotate(-45)" x="0" y="8">PFPseed</text><text class="xl" transform="translate(201.42 493.40) rotate(-45)" x="0" y="8">NUEbalance</text><text class="xl" transform="translate(224.56 493.40) rotate(-45)" x="0" y="8">NBI</text><text class="xl" transform="translate(247.70 493.40) rotate(-45)" x="0" y="8">NUEcrop</text><text class="xl" transform="translate(270.84 493.40) rotate(-45)" x="0" y="8">REfertN</text><text class="xl" transform="translate(293.99 493.40) rotate(-45)" x="0" y="8">PNB</text><text class="xl" transform="translate(317.13 493.40) rotate(-45)" x="0" y="8">NUpE</text><text class="xl" transform="translate(340.27 493.40) rotate(-45)" x="0" y="8">NUEyield</text><text class="xl" transform="translate(363.42 493.40) rotate(-45)" x="0" y="8">PFPbiomass</text><text class="xl" transform="translate(386.56 493.40) rotate(-45)" x="0" y="8">NUEsoil</text><text class="xl" transform="translate(409.70 493.40) rotate(-45)" x="0" y="8">LAI</text><text class="xl" transform="translate(432.85 493.40) rotate(-45)" x="0" y="8">OM</text><text class="xl" transform="translate(455.99 493.40) rotate(-45)" x="0" y="8">STN</text><text class="xl" transform="translate(479.13 493.40) rotate(-45)" x="0" y="8">CEC</text></g>
<defs><linearGradient id="lg" x1="0" y1="0" x2="1" y2="0"><stop offset="0.0%" stop-color="#FF0000"/><stop offset="2.5%" stop-color="#FF2913"/><stop offset="5.0%" stop-color="#FF3E22"/><stop offset="7.5%" stop-color="#FF4D2E"/><stop offset="10.0%" stop-color="#FF5B3A"/><stop offset="12.5%" stop-color="#FF6846"/><stop offset="15.0%" stop-color="#FF7352"/><stop offset="17.5%" stop-color="#FF7E5E"/><stop offset="20.0%" stop-color="#FF8969"/><stop offset="22.5%" stop-color="#FF9475"/><stop offset="25.0%" stop-color="#FF9E81"/><stop offset="27.5%" stop-color="#FFA88D"/><stop offset="30.0%" stop-color="#FFB299"/><stop offset="32.5%" stop-color="#FFBCA6"/><stop offset="35.0%" stop-color="#FFC6B2"/><stop offset="37.5%" stop-color="#FFCFBF"/><stop offset="40.0%" stop-color="#FFD9CB"/><stop offset="42.5%" stop-color="#FFE2D8"/><stop offset="45.0%" stop-color="#FFECE5"/><stop offset="47.5%" stop-color="#FFF5F2"/><stop offset="50.0%" stop-color="#FFFFFF"/><stop offset="52.5%" stop-color="#F8F3FF"/><stop offset="55.0%" stop-color="#F2E7FF"/><stop offset="57.5%" stop-color="#EBDCFF"/><stop offset="60.0%" stop-color="#E3D0FF"/><stop offset="62.5%" stop-color="#DCC4FF"/><stop offset="65.0%" stop-color="#D4B9FF"/><stop offset="67.5%" stop-color="#CCADFF"/><stop offset="70.0%" stop-color="#C4A2FF"/><stop offset="72.5%" stop-color="#BC97FF"/><stop offset="75.0%" stop-color="#B38BFF"/><stop offset="77.5%" stop-color="#AA80FF"/><stop offset="80.0%" stop-color="#A074FF"/><stop offset="82.5%" stop-color="#9569FF"/><stop offset="85.0%" stop-color="#8A5DFF"/><stop offset="87.5%" stop-color="#7E52FF"/><stop offset="90.0%" stop-color="#7145FF"/><stop offset="92.5%" stop-color="#6239FF"/><stop offset="95.0%" stop-color="#502BFF"/><stop offset="97.5%" stop-color="#381BFF"/><stop offset="100.0%" stop-color="#0000FF"/></linearGradient></defs>
<rect x="62.0" y="75.0" width="80.5" height="13.4" fill="url(#lg)"/>
<path d="M62.00 75.0v2.7M62.00 88.4v-2.7" stroke="#fff" stroke-width="0.5" fill="none"/>
<text class="ll" x="62.00" y="99.8">-1.0</text>
<path d="M82.12 75.0v2.7M82.12 88.4v-2.7" stroke="#fff" stroke-width="0.5" fill="none"/>
<text class="ll" x="82.12" y="99.8">-0.5</text>
<path d="M102.25 75.0v2.7M102.25 88.4v-2.7" stroke="#fff" stroke-width="0.5" fill="none"/>
<text class="ll" x="102.25" y="99.8">0.0</text>
<path d="M122.38 75.0v2.7M122.38 88.4v-2.7" stroke="#fff" stroke-width="0.5" fill="none"/>
<text class="ll" x="122.38" y="99.8">0.5</text>
<path d="M142.50 75.0v2.7M142.50 88.4v-2.7" stroke="#fff" stroke-width="0.5" fill="none"/>
<text class="ll" x="142.50" y="99.8">1.0</text>
<text class="lt" x="102.3" y="58.5">Pearson's</text>
<text class="lt" x="102.3" y="69.3">Correlation</text>
<text class="cap" x="490" y="548.2">ns p &gt;= 0.05; * p &lt; 0.05; ** p &lt; 0.01; and *** p &lt; 0.001</text>
</svg></body></html>
